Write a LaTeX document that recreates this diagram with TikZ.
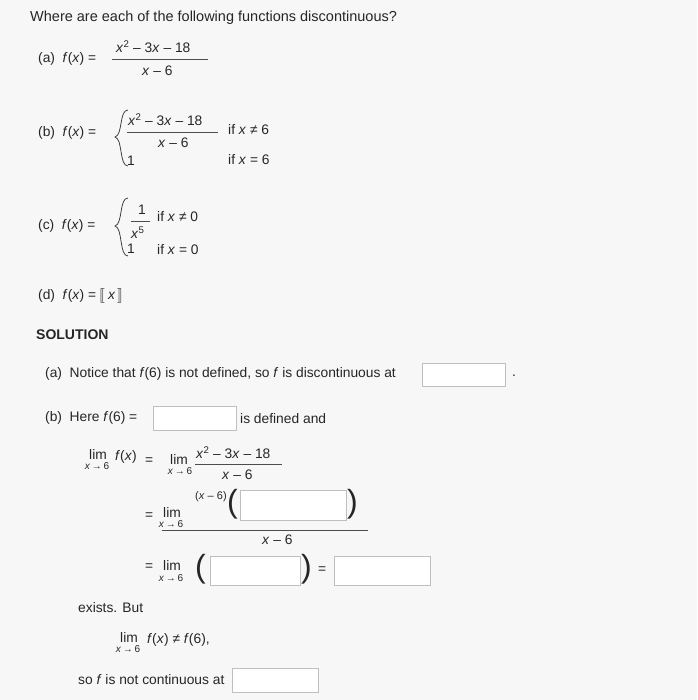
\documentclass[tikz,border=0pt]{standalone}
\usepackage{amsmath}
\usepackage{stmaryrd}
\usepackage{fontspec}
\setmainfont{Liberation Sans}
\newcommand{\vx}{\textit{x}}
\newcommand{\vf}{\textit{f}}
\begin{document}
\begin{tikzpicture}[x=1pt,y=-1pt,
  t/.style={anchor=west,inner sep=0pt,text=black!85,font=\fontsize{13.8}{16}\selectfont},
  s/.style={anchor=center,inner sep=0pt,text=black!85,font=\fontsize{10}{11}\selectfont},
  big/.style={anchor=west,inner sep=0pt,text=black!85,font=\fontsize{32}{34}\selectfont},
  ansbox/.style={draw=black!25,fill=white,line width=0.8pt},
  brace/.style={draw=black!75,line width=0.8pt}]
\fill[gray!6] (0,0) rectangle (697,700);
\useasboundingbox (0,0) rectangle (697,700);
\node[t,font=\fontsize{14.5}{16}\selectfont] (title) at (30,18) {Where are each of the following functions discontinuous?};
% (a)
\node[t] (pa) at (38,59) {(a)\ \ \vf(\vx) =};
\node[t] (pan) at (116,47) {\vx\textsuperscript{2} -- 3\vx\ -- 18};
\node[t] (pad) at (142,71) {\vx\ -- 6};
\draw[black!70] (112,59) -- (208,59);
% (b)
\node[t] (pb) at (38,133) {(b)\ \ \vf(\vx) =};
\draw[brace] (128,110) .. controls (119,110) and (123,135) .. (115,137) .. controls (123,139) and (119,166) .. (128,166);
\node[t] (pbn) at (128,120) {\vx\textsuperscript{2} -- 3\vx\ -- 18};
\node[t] (pbd) at (158,143) {\vx\ -- 6};
\draw[black!70] (127,132) -- (218,132);
\node[t] (pb1) at (127,161) {1};
\node[t] (pbc1) at (228,130) {if \vx\ ≠ 6};
\node[t] (pbc2) at (228,160) {if \vx\ = 6};
% (c)
\node[t] (pc) at (38,226) {(c)\ \ \vf(\vx) =};
\draw[brace] (128,198) .. controls (119,198) and (123,224) .. (115,226) .. controls (123,228) and (119,256) .. (128,256);
\node[t] (pcn) at (138,210) {1};
\node[t] (pcd) at (131,233) {\vx\textsuperscript{5}};
\draw[black!70] (131,221) -- (150,221);
\node[t] (pc1) at (127,249) {1};
\node[t] (pcc1) at (157,217) {if \vx\ ≠ 0};
\node[t] (pcc2) at (157,250) {if \vx\ = 0};
% (d)
\node[t] (pd) at (38,296) {(d)\ \ \vf(\vx) = $\llbracket$\,\vx\,$\rrbracket$};
% solution
\node[t,font=\bfseries\fontsize{14}{16}\selectfont] (sol) at (36,335) {SOLUTION};
\node[t] (sa) at (45,374) {(a)\ \ Notice that \vf(6) is not defined, so \vf\ is discontinuous at};
\draw[ansbox] (422,363) rectangle (505,386);
\node[t] (dot) at (512,376) {.};
\node[t] (sb) at (45,418) {(b)\ \ Here \vf(6) =};
\draw[ansbox] (153,406) rectangle (236,430);
\node[t] (sbd) at (240,419) {is defined and};
% limit row 1
\node[t] (l1) at (89,454) {lim};
\node[s] (l1s) at (97,466) {\vx\,→\,6};
\node[t] (l1f) at (115,457) {\vf(\vx)};
\node[t] (e1) at (145,461) {=};
\node[t] (l2) at (170,459) {lim};
\node[s] (l2s) at (180,471) {\vx\,→\,6};
\node[t] (n1) at (196,453) {\vx\textsuperscript{2} -- 3\vx\ -- 18};
\node[t] (d1) at (222,475) {\vx\ -- 6};
\draw[black!70] (195,464) -- (282,464);
% row 2
\node[t] (e2) at (145,516) {=};
\node[t] (l3) at (163,512) {lim};
\node[s] (l3s) at (171,524) {\vx\,→\,6};
\node[t,font=\fontsize{11}{12}\selectfont] (x6) at (195,497) {(\vx\ -- 6)};
\node[big] (lp2) at (227,504) {(};
\draw[ansbox] (240,490) rectangle (346,520);
\node[big] (rp2) at (347,504) {)};
\draw[black!70] (162,530) -- (368,530);
\node[t] (d2) at (262,540) {\vx\ -- 6};
% row 3
\node[t] (e3) at (145,567) {=};
\node[t] (l4) at (163,565) {lim};
\node[s] (l4s) at (171,578) {\vx\,→\,6};
\node[big] (lp3) at (195,569) {(};
\draw[ansbox] (210,556) rectangle (300,585);
\node[big] (rp3) at (301,569) {)};
\node[t] (e4) at (318,570) {=};
\draw[ansbox] (334,556) rectangle (430,585);
% rest
\node[t] (ex) at (78,608) {exists. But};
\node[t] (l5) at (120,637) {lim};
\node[s] (l5s) at (128,649) {\vx\,→\,6};
\node[t] (l5f) at (147,640) {\vf(\vx) ≠ \vf(6),};
\node[t] (so) at (78,680) {so \vf\ is not continuous at};
\draw[ansbox] (232,668) rectangle (318,692);
\end{tikzpicture}
\end{document}
